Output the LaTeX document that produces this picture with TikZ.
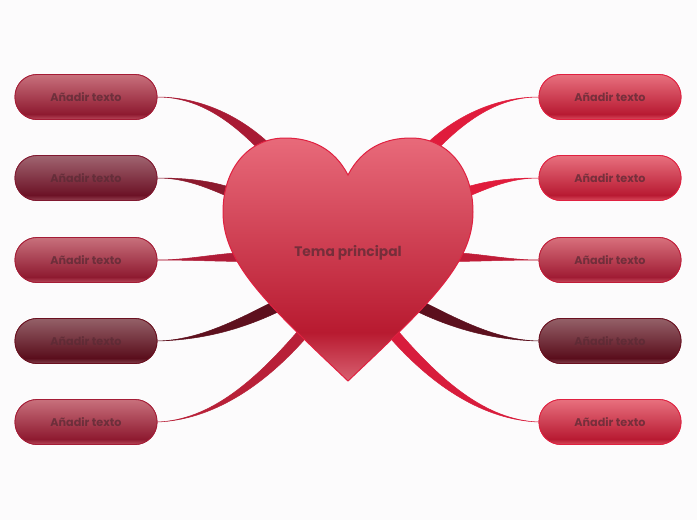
\documentclass[tikz,border=0pt]{standalone}
\usepackage{fontspec}
\setmainfont{Poppins}
\usetikzlibrary{calc}

\definecolor{bg}{HTML}{FCFBFC}
\definecolor{txt}{HTML}{5A2A34}
% medium boxes
\definecolor{medT}{HTML}{C8707C}\definecolor{medD}{HTML}{8E1A30}\definecolor{medB}{HTML}{B8485A}\definecolor{medL}{HTML}{A41C36}
% dark boxes (left row 2)
\definecolor{drkT}{HTML}{A06470}\definecolor{drkD}{HTML}{6C1226}\definecolor{drkB}{HTML}{944050}\definecolor{drkL}{HTML}{801830}
% darkest boxes
\definecolor{dstT}{HTML}{946068}\definecolor{dstD}{HTML}{5A0E1C}\definecolor{dstB}{HTML}{84404C}\definecolor{dstL}{HTML}{6A1020}
% bright boxes
\definecolor{brtT}{HTML}{E8707E}\definecolor{brtD}{HTML}{B81A32}\definecolor{brtB}{HTML}{D84A5C}\definecolor{brtL}{HTML}{E02040}
% right row 3
\definecolor{rmdT}{HTML}{D8707C}\definecolor{rmdD}{HTML}{A01C34}\definecolor{rmdB}{HTML}{C84A5C}\definecolor{rmdL}{HTML}{C01C38}
% heart
\definecolor{hT}{HTML}{E86A7A}\definecolor{hD}{HTML}{B81A30}\definecolor{hB}{HTML}{D86070}\definecolor{hL}{HTML}{E02040}
% connectors
\definecolor{cL1}{HTML}{A81A34}\definecolor{cL2}{HTML}{8C1A2E}\definecolor{cL3}{HTML}{B01C38}
\definecolor{cL4}{HTML}{5E101E}\definecolor{cL5}{HTML}{B82038}
\definecolor{cR1}{HTML}{E01C3C}\definecolor{cR3}{HTML}{C01C38}\definecolor{cR4}{HTML}{5C101E}\definecolor{cR5}{HTML}{D81C3C}

\pgfdeclareverticalshading{medsh}{100bp}{color(0bp)=(medB); color(25bp)=(medB); color(31bp)=(medD); color(75bp)=(medT); color(100bp)=(medT)}
\pgfdeclareverticalshading{drksh}{100bp}{color(0bp)=(drkB); color(25bp)=(drkB); color(31bp)=(drkD); color(75bp)=(drkT); color(100bp)=(drkT)}
\pgfdeclareverticalshading{dstsh}{100bp}{color(0bp)=(dstB); color(25bp)=(dstB); color(31bp)=(dstD); color(75bp)=(dstT); color(100bp)=(dstT)}
\pgfdeclareverticalshading{brtsh}{100bp}{color(0bp)=(brtB); color(25bp)=(brtB); color(31bp)=(brtD); color(75bp)=(brtT); color(100bp)=(brtT)}
\pgfdeclareverticalshading{rmdsh}{100bp}{color(0bp)=(rmdB); color(25bp)=(rmdB); color(31bp)=(rmdD); color(75bp)=(rmdT); color(100bp)=(rmdT)}
\pgfdeclareverticalshading{heartsh}{100bp}{color(0bp)=(hB); color(25bp)=(hB); color(35bp)=(hD); color(75bp)=(hT); color(100bp)=(hT)}

% tapered connector: colour, start, control1, control2, end, dx, dy
\newcommand\tconn[7]{%
  \filldraw[#1, line width=0.5pt] (#2) .. controls (#3) and ($(#4)+(#6,#7)$) .. ($(#5)+(#6,#7)$)
    -- ($(#5)-(#6,#7)$) .. controls ($(#4)-(#6,#7)$) and (#3) .. (#2) -- cycle;}

\begin{document}
\begin{tikzpicture}[x=1pt,y=-1pt,
  box/.style={rounded corners=22pt, minimum width=142pt, minimum height=45pt,
    line width=0.8pt, text=txt, text opacity=0.75, inner sep=0pt,
    font=\bfseries\fontsize{11.2}{13}\selectfont},
  medbox/.style={box, shading=medsh, draw=medL},
  drkbox/.style={box, shading=drksh, draw=drkL},
  dstbox/.style={box, shading=dstsh, draw=dstL},
  brtbox/.style={box, shading=brtsh, draw=brtL},
  rmdbox/.style={box, shading=rmdsh, draw=rmdL},
  maintext/.style={text=txt, text opacity=0.75, font=\bfseries\fontsize{13.8}{16}\selectfont}]
\fill[bg] (0,0) rectangle (697,520);
\useasboundingbox (0,0) rectangle (697,520);

% boxes (nodes defined first for names)
\node[medbox] (l1) at (86,97) {Añadir texto};
\node[drkbox] (l2) at (86,178) {Añadir texto};
\node[medbox] (l3) at (86,260) {Añadir texto};
\node[dstbox] (l4) at (86,341) {Añadir texto};
\node[medbox] (l5) at (86,422) {Añadir texto};
\node[brtbox] (r1) at (610,97) {Añadir texto};
\node[brtbox] (r2) at (610,178) {Añadir texto};
\node[rmdbox] (r3) at (610,260) {Añadir texto};
\node[dstbox] (r4) at (610,341) {Añadir texto};
\node[brtbox] (r5) at (610,422) {Añadir texto};

% heart attachment points
\coordinate (hl1) at (275,158);
\coordinate (hl2) at (245,198);
\coordinate (hl3) at (250,257);
\coordinate (hl4) at (285,302);
\coordinate (hl5) at (310,325);
\coordinate (hr1) at (421,158);
\coordinate (hr2) at (451,198);
\coordinate (hr3) at (446,257);
\coordinate (hr4) at (411,302);
\coordinate (hr5) at (386,325);

% connectors
\tconn{cL1}{l1.east}{205,97}{245,125}{hl1}{4}{-4.5}
\tconn{cL2}{l2.east}{190,178}{215,186}{hl2}{1.5}{-5}
\tconn{cL3}{l3.east}{190,260}{220,257}{hl3}{0}{-4.5}
\tconn{cL4}{l4.east}{200,340}{240,325}{hl4}{2}{5.5}
\tconn{cL5}{l5.east}{210,420}{260,385}{hl5}{3.8}{3.8}
\tconn{cR1}{r1.west}{491,97}{451,125}{hr1}{-4}{-4.5}
\tconn{cR1}{r2.west}{506,178}{481,186}{hr2}{-1.5}{-5}
\tconn{cR3}{r3.west}{506,260}{476,257}{hr3}{0}{-4.5}
\tconn{cR4}{r4.west}{496,340}{456,325}{hr4}{-2}{5.5}
\tconn{cR5}{r5.west}{486,420}{436,385}{hr5}{-3.8}{3.8}

% redraw boxes on top of connector ends
\node[medbox] at (l1) {Añadir texto};
\node[drkbox] at (l2) {Añadir texto};
\node[medbox] at (l3) {Añadir texto};
\node[dstbox] at (l4) {Añadir texto};
\node[medbox] at (l5) {Añadir texto};
\node[brtbox] at (r1) {Añadir texto};
\node[brtbox] at (r2) {Añadir texto};
\node[rmdbox] at (r3) {Añadir texto};
\node[dstbox] at (r4) {Añadir texto};
\node[brtbox] at (r5) {Añadir texto};

% heart
\shadedraw[shading=heartsh, draw=hL, line width=1pt]
  (348,175) .. controls (362,148) and (385,138) .. (411,138)
  .. controls (447,138) and (473,168) .. (473,212)
  .. controls (473,264) and (428,305) .. (348,381)
  .. controls (268,305) and (223,264) .. (223,212)
  .. controls (223,168) and (249,138) .. (285,138)
  .. controls (311,138) and (334,148) .. (348,175) -- cycle;
\node[maintext] (main) at (348,253) {Tema principal};
\end{tikzpicture}
\end{document}
